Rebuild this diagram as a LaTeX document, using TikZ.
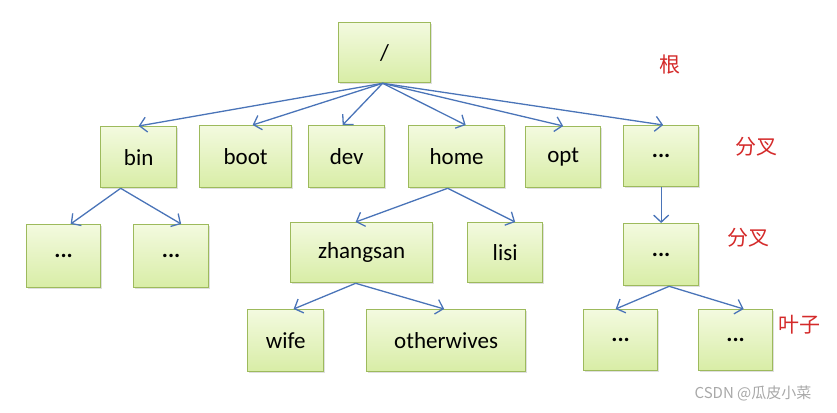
\documentclass[tikz,border=0pt]{standalone}
\usepackage{fontspec}
\setmainfont{Carlito}
\newfontfamily\cjk{Noto Sans CJK SC}
\usetikzlibrary{arrows.meta,shadows}
\definecolor{boxtop}{HTML}{F3FADF}
\definecolor{boxbot}{HTML}{D8EDA6}
\definecolor{boxline}{HTML}{9DBA5C}
\definecolor{arr}{HTML}{4A74B8}
\definecolor{lbl}{HTML}{D42A2A}
\definecolor{wm}{HTML}{A8A8A8}
\begin{document}
\begin{tikzpicture}[x=1pt,y=-1pt,
  box/.style={draw=boxline, line width=1.3pt, top color=boxtop, bottom color=boxbot,
    drop shadow={opacity=0.25, shadow xshift=1.8pt, shadow yshift=-1.8pt},
    font=\fontsize{23}{27}\selectfont, inner sep=0pt, anchor=north west},
  link/.style={draw=arr, line width=1.3pt, -{Straight Barb[length=7pt,width=15pt]}},
  tag/.style={text=lbl, font=\cjk\fontsize{21}{25}\selectfont, inner sep=0pt}]
\useasboundingbox (0,0) rectangle (837,412);
% boxes: \node at (left, top) with sizes
\newcommand{\bx}[6]{\node[box, minimum width=#4pt, minimum height=#5pt] (#1) at (#2,#3) {#6};}
\newcommand{\dotz}{\textbf{...}}
\bx{root}{338}{22}{92}{60}{/}
\bx{bin}{100}{126}{76}{61}{bin}
\bx{boot}{199}{125}{92}{62}{boot}
\bx{dev}{308}{125}{76}{62}{dev}
\bx{home}{408}{125}{96}{62}{home}
\bx{opt}{525}{126}{75}{61}{opt}
\bx{r1}{623}{125}{75}{61}{\dotz}
\bx{a1}{26}{224}{74}{63}{\dotz}
\bx{a2}{133}{224}{75}{63}{\dotz}
\bx{zs}{290}{222}{142}{60}{zhangsan}
\bx{lisi}{467}{222}{75}{60}{lisi}
\bx{r2}{623}{223}{75}{62}{\dotz}
\bx{wife}{247}{309}{76}{62}{wife}
\bx{ow}{366}{309}{159}{62}{otherwives}
\bx{c1}{583}{309}{74}{61}{\dotz}
\bx{c2}{698}{309}{74}{61}{\dotz}
% connectors
\draw[link] ([xshift=-2pt]root.south) -- (bin.north);
\draw[link] ([xshift=-2pt]root.south) -- ([xshift=7pt]boot.north);
\draw[link] ([xshift=-2pt]root.south) -- ([xshift=-4pt]dev.north);
\draw[link] ([xshift=-2pt]root.south) -- ([xshift=9pt]home.north);
\draw[link] ([xshift=-2pt]root.south) -- (opt.north);
\draw[link] ([xshift=-2pt]root.south) -- ([xshift=2pt]r1.north);
\draw[link] ([xshift=-18pt]bin.south) -- ([xshift=7pt]a1.north);
\draw[link] ([xshift=-18pt]bin.south) -- ([xshift=10pt]a2.north);
\draw[link] ([xshift=-9pt]home.south) -- ([xshift=-6pt]zs.north);
\draw[link] ([xshift=-9pt]home.south) -- ([xshift=10pt]lisi.north);
\draw[link] ([xshift=-6pt]zs.south) -- ([xshift=8pt]wife.north);
\draw[link] ([xshift=-6pt]zs.south) -- ([xshift=-2pt]ow.north);
\draw[link] (r1.south) -- (r2.north);
\draw[link] ([xshift=8pt]r2.south) -- ([xshift=-5pt]c1.north);
\draw[link] ([xshift=8pt]r2.south) -- ([xshift=8pt]c2.north);
% labels
\node[tag] (lroot) at (670,65) {根};
\node[tag] (lfork1) at (756,147) {分叉};
\node[tag] (lfork2) at (748,238) {分叉};
\node[tag] (lleaf) at (799,325) {叶子};
\node[text=wm, font=\cjk\fontsize{15}{18}\selectfont, inner sep=0pt] (wmk) at (753,393) {CSDN @瓜皮小菜};
\end{tikzpicture}
\end{document}
